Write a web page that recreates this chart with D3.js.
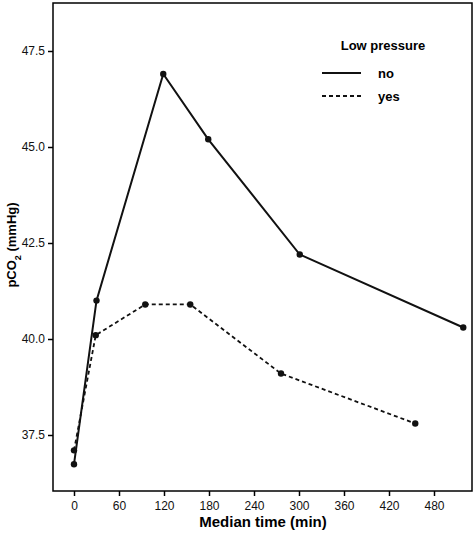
<!DOCTYPE html><html><head><script src="https://cdn.jsdelivr.net/npm/d3@7"></script>
<style>body{margin:0;background:#fff}text{font-family:"Liberation Sans",Arial,sans-serif}</style></head><body>
<svg id="c" width="474" height="539"></svg>
<script>
const seriesNames=["no","yes"];
const noX=[0,30,119,179,301,519], noY=[36.74,41.0,46.9,45.2,42.2,40.3];
const yesX=[0,29,95,155,276,455], yesY=[37.1,40.1,40.9,40.9,39.1,37.8];
const xTicks=[0,60,120,180,240,300,360,420,480];
const yTicks=[37.5,40.0,42.5,45.0,47.5];
const svg=d3.select("#c");
const L=53,R=472,T=3,B=491;
const x=d3.scaleLinear().domain([0,480]).range([74,434]);
const y=d3.scaleLinear().domain([37.5,47.5]).range([435,51]);
svg.append("rect").attr("x",L).attr("y",T).attr("width",R-L).attr("height",B-T).attr("fill","none").attr("stroke","#000").attr("stroke-width",1.5);
const gx=svg.append("g").attr("transform",`translate(0,${B})`).call(d3.axisBottom(x).tickValues(xTicks).tickSize(5).tickFormat(d3.format("d")));
const gy=svg.append("g").attr("transform",`translate(${L},0)`).call(d3.axisLeft(y).tickValues(yTicks).tickSize(5).tickFormat(d3.format(".1f")));
[gx,gy].forEach(g=>{g.select(".domain").remove();g.selectAll("line").attr("stroke-width",1.5);g.selectAll("text").attr("font-size",12).attr("fill","#111").attr("font-family","Liberation Sans, Arial, sans-serif");});
gx.selectAll("text").attr("dy","0.9em");
const line=d3.line().x(d=>x(d[0])).y(d=>y(d[1]));
const data=[[noX,noY,null],[yesX,yesY,"4,3"]];
data.forEach(([xs,ys,dash])=>{
 const pts=xs.map((v,i)=>[v,ys[i]]);
 svg.append("path").datum(pts).attr("d",line).attr("fill","none").attr("stroke","#111").attr("stroke-width",dash?1.8:2).attr("stroke-dasharray",dash);
 svg.selectAll(null).data(pts).enter().append("circle").attr("cx",d=>x(d[0])).attr("cy",d=>y(d[1])).attr("r",3.2).attr("fill","#111");
});
svg.append("text").attr("x",263).attr("y",527).attr("text-anchor","middle").attr("font-size",15).attr("font-weight","bold").text("Median time (min)");
svg.append("text").attr("transform","translate(16,245) rotate(-90)").attr("text-anchor","middle").attr("font-size",13).attr("font-weight","bold")
 .html('pCO<tspan baseline-shift="sub" font-size="9">2</tspan> (mmHg)');
svg.append("text").attr("x",383).attr("y",50).attr("text-anchor","middle").attr("font-size",13).attr("font-weight","bold").text("Low pressure");
seriesNames.forEach((n,i)=>{
 const yy=73+i*23;
 svg.append("line").attr("x1",322).attr("x2",361).attr("y1",yy).attr("y2",yy).attr("stroke","#111").attr("stroke-width",2).attr("stroke-dasharray",i?"4,3":null);
 svg.append("text").attr("x",378).attr("y",yy+5).attr("font-size",13).attr("font-weight","bold").text(n);
});
</script></body></html>
